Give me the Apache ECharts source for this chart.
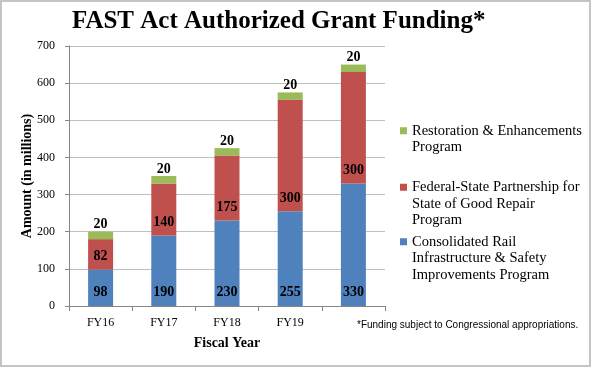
<!DOCTYPE html>
<html>
<head>
<meta charset="utf-8">
<script src="https://cdn.jsdelivr.net/npm/echarts@6/dist/echarts.min.js"></script>
<style>
html,body{margin:0;padding:0;background:#fff;}
#wrap{position:relative;width:591px;height:367px;}
#chart{position:absolute;left:0;top:0;width:591px;height:367px;}
#frame{position:absolute;left:0;top:0;width:591px;height:367px;box-sizing:border-box;border:2px solid #c4c4c4;pointer-events:none;}
</style>
</head>
<body>
<div id="wrap"><div id="chart"></div><div id="frame"></div></div>
<script>
const categories = ['FY16', 'FY17', 'FY18', 'FY19', ''];
const consolidated = [98, 190, 230, 255, 330];
const federalState = [82, 140, 175, 300, 300];
const restoration = [20, 20, 20, 20, 20];
const yTicks = { min: 0, max: 700, interval: 100 };
const seriesNames = [
  'Consolidated Rail Infrastructure & Safety Improvements Program',
  'Federal-State Partnership for State of Good Repair Program',
  'Restoration & Enhancements Program'
];
const legendLabels = {
  'Restoration & Enhancements Program': 'Restoration & Enhancements\nProgram',
  'Federal-State Partnership for State of Good Repair Program': 'Federal-State Partnership for\nState of Good Repair\nProgram',
  'Consolidated Rail Infrastructure & Safety Improvements Program': 'Consolidated Rail\nInfrastructure & Safety\nImprovements Program'
};
const colors = ['#4F81BD', '#C0504D', '#9BBB59'];

const serif = '"Liberation Serif", "Times New Roman", serif';
const LH = 16.5;
function iconPath(lines) {
  const h = lines * LH;
  const c = LH / 2;
  return 'path://M0,0L0,0Z M0,' + (c - 3.5) + 'h7v7h-7Z M7,' + h + 'L7,' + h + 'Z';
}
function makeLegend(name, lines, top) {
  return {
    data: [{ name: name, icon: iconPath(lines) }],
    left: 400, top: top, padding: 0,
    orient: 'vertical',
    itemWidth: 7, itemHeight: lines * LH,
    symbolKeepAspect: false,
    selectedMode: false,
    formatter: n => legendLabels[n],
    textStyle: { fontFamily: serif, fontSize: 14.5, color: '#000', lineHeight: LH }
  };
}

const labelStyle = { fontFamily: serif, fontSize: 14, fontWeight: 'bold', color: '#000' };

const chart = echarts.init(document.getElementById('chart'), null, { renderer: 'canvas' });
chart.setOption({
  animation: false,
  title: [
    { text: 'FAST Act Authorized Grant Funding*', left: 72, top: 9, padding: 0,
      textStyle: { fontFamily: serif, fontSize: 25, fontWeight: 'bold', color: '#000' } },
    { text: '*Funding subject to Congressional appropriations.', left: 357, top: 320, padding: 0,
      textStyle: { fontFamily: '"Liberation Sans", Arial, sans-serif', fontSize: 10, fontWeight: 'normal', color: '#000' } }
  ],
  legend: [
    makeLegend(seriesNames[2], 2, 122.5),
    makeLegend(seriesNames[1], 3, 179),
    makeLegend(seriesNames[0], 3, 233.5)
  ],
  grid: { left: 69, right: 206, top: 46, bottom: 61, containLabel: false },
  xAxis: {
    type: 'category',
    data: categories,
    name: 'Fiscal Year', nameLocation: 'middle', nameGap: 30,
    nameTextStyle: { fontFamily: serif, fontSize: 14, fontWeight: 'bold', color: '#000' },
    axisLine: { lineStyle: { color: '#868686', width: 1 } },
    axisTick: { show: true, alignWithLabel: false, length: 5, lineStyle: { color: '#868686' } },
    axisLabel: { fontFamily: serif, fontSize: 12, color: '#000', margin: 11 }
  },
  yAxis: {
    type: 'value',
    min: yTicks.min, max: yTicks.max, interval: yTicks.interval,
    name: 'Amount (in millions)', nameLocation: 'middle', nameGap: 35, nameRotate: 90,
    nameMoveOverlap: false,
    nameTextStyle: { fontFamily: serif, fontSize: 14, fontWeight: 'bold', color: '#000' },
    axisLine: { show: true, lineStyle: { color: '#868686', width: 1 } },
    axisTick: { show: true, length: 4, lineStyle: { color: '#868686' } },
    axisLabel: { fontFamily: serif, fontSize: 12, color: '#000', margin: 14 },
    splitLine: { lineStyle: { color: '#bfbfbf', width: 1 } }
  },
  series: [
    { name: seriesNames[0], type: 'bar', stack: 'total', data: consolidated, barWidth: 25,
      itemStyle: { color: colors[0] },
      label: { show: true, position: 'insideBottom', distance: 7, ...labelStyle } },
    { name: seriesNames[1], type: 'bar', stack: 'total', data: federalState, barWidth: 25,
      itemStyle: { color: colors[1] },
      label: { show: true, position: 'insideBottom', distance: 6, ...labelStyle } },
    { name: seriesNames[2], type: 'bar', stack: 'total', data: restoration, barWidth: 25,
      itemStyle: { color: colors[2] },
      label: { show: true, position: 'top', distance: 0, ...labelStyle } }
  ]
});
</script>
</body>
</html>
